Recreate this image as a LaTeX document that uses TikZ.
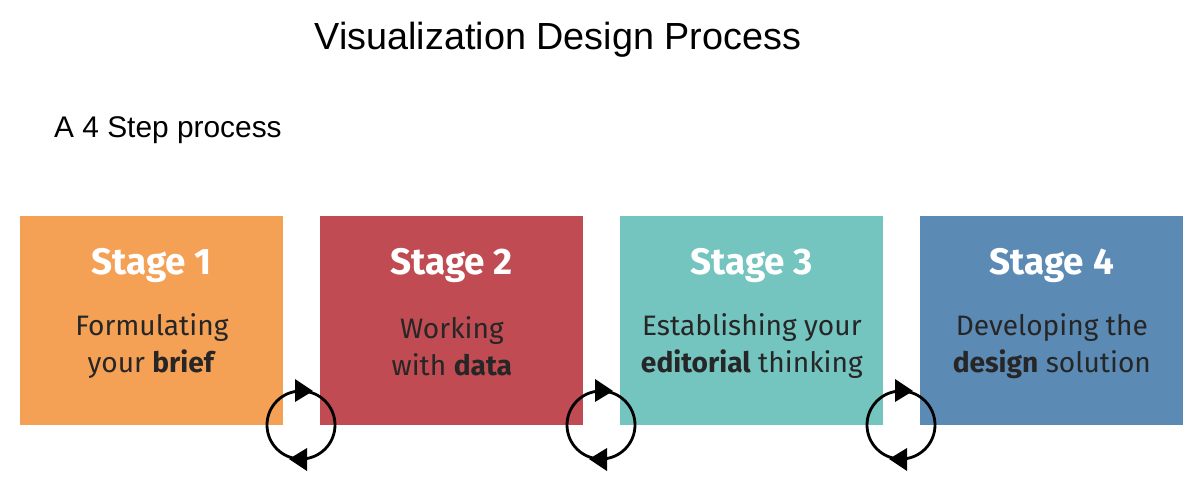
\documentclass[tikz,border=0pt]{standalone}
\usepackage{fontspec}
\setmainfont{Liberation Sans}
\newfontfamily\stagefont{Fira Sans}
\usetikzlibrary{arrows.meta,calc}
\definecolor{cA}{HTML}{F4A055}
\definecolor{cB}{HTML}{C04B53}
\definecolor{cC}{HTML}{74C4BF}
\definecolor{cD}{HTML}{5B8AB5}
\tikzset{
  stagebox/.style={minimum width=5.26cm,minimum height=4.18cm,inner sep=0pt,anchor=north west},
  head/.style={text=white,font=\stagefont\bfseries\fontsize{21}{24}\selectfont},
  body/.style={align=center,font=\stagefont\fontsize{16}{21}\selectfont,text=black!85},
  cyc/.style={line width=1.6pt,black}
}
\begin{document}
\begin{tikzpicture}[x=0.02cm,y=-0.02cm]
\useasboundingbox (0,0) rectangle (1200,497);
\node (title) at (558,40) {\fontsize{21.5}{24}\selectfont Visualization Design Process};
\node[anchor=west] (sub) at (48,130) {\fontsize{17}{20}\selectfont A 4 Step process};
\node[stagebox,fill=cA] (s1) at (20,216) {};
\node[stagebox,fill=cB] (s2) at (320,216) {};
\node[stagebox,fill=cC] (s3) at (620,216) {};
\node[stagebox,fill=cD] (s4) at (920,216) {};
\foreach \n/\t in {1/{Formulating\\your \textbf{brief}},2/{Working\\with \textbf{data}},3/{Establishing your\\\textbf{editorial} thinking},4/{Developing the\\\textbf{design} solution}}{
  \node[head] (h\n) at ([yshift=-49*0.02cm]s\n.north) {Stage \n};
  \node[body] (b\n) at ([yshift=-130*0.02cm]s\n.north) {\t};
}
\foreach \cx [count=\k] in {301,601,901}{
  \coordinate (c\k) at (\cx,425);
  \draw[cyc] (c\k) circle[radius=34];
  \fill ($(c\k)+(-6,-46)$) -- ($(c\k)+(12,-34)$) -- ($(c\k)+(-6,-23)$) -- cycle;
  \fill ($(c\k)+(6,46)$) -- ($(c\k)+(-12,34)$) -- ($(c\k)+(6,23)$) -- cycle;
}
\end{tikzpicture}
\end{document}
